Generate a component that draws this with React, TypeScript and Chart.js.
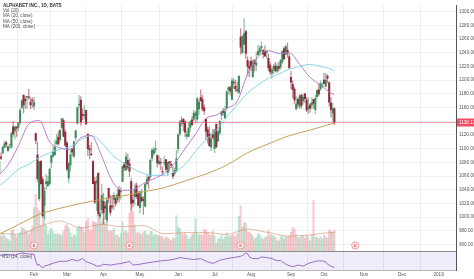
import React, { useEffect, useRef } from 'react';
import { Chart, registerables } from 'chart.js';

Chart.register(...registerables);

const FONT = "'Liberation Sans', Arial, sans-serif";

// Daily bars, Jan 2 2018 (index 0) .. Oct 9 2018 (index 194)
const opens = [
  1048,1064,1088,1094,1102,1109,1097,1106,1102,1132,
  1126,1132,1131,1138,1160,1178,1172,1175,1176,1168,
  1171,1162,1122,1091,1027,1082,1055,1017,1049,1046,
  1049,1080,1089,1091,1107,1117,1113,1131,1141,1124,
  1108,1057,1076,1100,1089,1116,1137,1164,1171,1150,
  1149,1156,1121,1100,1092,1081,1052,1050,1064,1001,
  1011,1023,1016,996,1042,1017,1016,1026,1027,1025,
  1040,1037,1052,1077,1069,1083,1078,1052,1025,1030,
  1046,1034,1014,1029,1026,1016,1049,1058,1059,1086,
  1093,1099,1090,1078,1080,1067,1079,1084,1065,1081,
  1077,1064,1064,1067,1100,1122,1141,1143,1139,1118,
  1118,1131,1142,1143,1148,1143,1158,1175,1172,1160,
  1143,1128,1121,1102,1121,1100,1136,1111,1123,1149,
  1156,1145,1159,1186,1189,1172,1197,1191,1186,1182,
  1263,1240,1252,1271,1229,1220,1228,1205,1229,1222,
  1237,1241,1247,1243,1242,1241,1232,1222,1210,1216,
  1221,1213,1220,1219,1227,1246,1238,1244,1234,1204,
  1194,1187,1158,1172,1162,1178,1170,1180,1171,1158,
  1164,1164,1172,1157,1176,1186,1187,1191,1200,1191,
  1206,1196,1167,1152,1158,
];
const highs = [
  1066,1086,1094,1104,1111,1111,1104,1107,1124,1140,
  1133,1132,1138,1159,1172,1179,1176,1176,1187,1174,
  1174,1175,1123,1110,1081,1082,1059,1044,1062,1060,
  1071,1090,1104,1113,1121,1125,1127,1144,1144,1127,
  1111,1079,1098,1101,1111,1127,1161,1178,1176,1158,
  1163,1156,1122,1105,1109,1083,1058,1060,1065,1025,
  1048,1035,1022,1029,1042,1032,1032,1036,1031,1041,
  1045,1043,1075,1080,1094,1092,1085,1057,1033,1049,
  1050,1038,1038,1040,1030,1050,1061,1060,1085,1100,
  1102,1111,1091,1090,1086,1073,1089,1084,1080,1081,
  1082,1074,1072,1098,1122,1141,1146,1143,1141,1126,
  1138,1141,1147,1156,1154,1175,1171,1186,1178,1164,
  1143,1132,1132,1123,1128,1128,1136,1127,1141,1154,
  1159,1162,1185,1191,1191,1203,1202,1200,1197,1206,
  1275,1265,1290,1273,1234,1227,1234,1230,1230,1240,
  1251,1250,1256,1245,1250,1244,1238,1226,1218,1223,
  1226,1224,1226,1230,1243,1249,1251,1254,1238,1213,
  1199,1190,1176,1174,1179,1180,1179,1181,1175,1174,
  1166,1174,1172,1178,1186,1195,1199,1196,1210,1210,
  1208,1198,1174,1166,1160,
];
const lows = [
  1045,1063,1084,1092,1101,1102,1096,1100,1101,1118,
  1114,1118,1126,1135,1158,1152,1159,1158,1172,1158,
  1160,1157,1107,1052,1024,1048,1000,997,1040,1044,
  1047,1072,1087,1091,1106,1105,1110,1129,1118,1103,
  1067,1050,1067,1089,1087,1112,1136,1160,1134,1142,
  1143,1135,1090,1085,1091,1049,1020,1010,1002,998,
  1005,990,997,993,1021,1003,1012,1011,1016,1022,
  1022,1026,1052,1068,1068,1070,1059,1010,1015,1018,
  1027,1017,1006,1022,1004,1015,1047,1042,1056,1082,
  1090,1094,1073,1076,1069,1061,1075,1068,1061,1067,
  1072,1056,1061,1066,1094,1119,1133,1126,1118,1114,
  1118,1125,1133,1141,1137,1140,1150,1169,1155,1150,
  1113,1108,1104,1097,1114,1094,1101,1111,1120,1142,
  1149,1144,1156,1180,1178,1172,1188,1183,1182,1180,
  1238,1239,1252,1231,1207,1205,1214,1204,1213,1214,
  1236,1236,1242,1232,1235,1232,1214,1208,1203,1209,
  1212,1211,1213,1216,1224,1230,1237,1233,1218,1187,
  1174,1166,1157,1160,1158,1159,1165,1167,1154,1151,
  1153,1158,1159,1151,1173,1177,1185,1189,1195,1190,
  1196,1162,1146,1140,1135,
];
const closes = [
  1065,1082,1086,1102,1107,1106,1103,1106,1122,1122,
  1132,1130,1138,1156,1170,1164,1170,1176,1175,1164,
  1170,1168,1112,1056,1081,1049,1002,1038,1052,1052,
  1070,1090,1095,1102,1111,1107,1127,1144,1118,1105,
  1070,1079,1091,1095,1110,1126,1160,1165,1139,1148,
  1150,1136,1100,1098,1091,1049,1022,1053,1005,1005,
  1032,1006,1013,1025,1028,1007,1015,1032,1020,1033,
  1029,1038,1074,1072,1088,1073,1067,1020,1021,1040,
  1030,1017,1037,1024,1024,1048,1055,1054,1083,1098,
  1098,1100,1079,1082,1079,1066,1080,1070,1080,1079,
  1076,1060,1068,1085,1120,1139,1140,1137,1124,1121,
  1130,1139,1135,1152,1152,1173,1168,1170,1158,1155,
  1125,1118,1104,1114,1116,1127,1103,1124,1140,1154,
  1153,1154,1183,1189,1184,1199,1196,1187,1185,1206,
  1248,1264,1268,1239,1220,1217,1220,1226,1224,1225,
  1242,1246,1249,1238,1235,1242,1218,1212,1215,1220,
  1214,1220,1217,1229,1242,1231,1249,1239,1218,1197,
  1186,1171,1165,1165,1177,1163,1175,1173,1156,1161,
  1159,1167,1166,1173,1185,1180,1195,1193,1195,1200,
  1203,1168,1157,1159,1138.17,
];
// Volume in millions of shares
const volumes = [
  1.56,1.43,1.30,1.51,1.35,1.15,1.02,0.89,1.82,1.81,1.40,1.26,1.47,1.62,2.02,1.98,1.77,1.73,1.45,1.79,2.18,
  3.74,4.86,3.70,3.49,2.19,3.34,3.98,2.19,1.45,1.72,1.97,1.68,1.47,1.49,1.50,1.41,1.34,1.73,2.18,
  2.32,2.08,1.56,1.19,1.46,1.30,2.07,2.17,2.07,2.03,1.67,2.55,2.84,1.86,1.77,2.58,2.47,2.43,3.08,3.30,2.54,
  2.84,2.48,2.93,1.73,1.74,1.74,1.98,1.40,1.40,1.18,1.56,2.54,1.67,1.76,1.59,3.30,4.80,3.42,2.26,1.53,1.66,
  1.52,1.45,1.67,1.76,1.46,1.38,1.70,1.68,1.36,1.49,1.39,1.32,1.28,1.28,1.06,1.23,1.18,1.06,0.93,1.18,1.09,3.06,
  2.08,1.97,1.59,1.40,1.60,1.36,1.03,1.20,1.44,1.53,2.78,1.52,1.42,1.46,1.37,1.92,1.82,1.60,1.43,1.36,1.72,
  1.34,0.73,1.06,1.14,1.37,1.06,1.24,1.59,1.26,1.40,1.33,1.43,1.29,1.51,2.98,3.89,2.10,2.47,2.40,1.69,1.63,
  1.49,1.30,1.06,1.20,1.49,1.44,1.15,1.05,1.20,1.26,1.81,1.40,1.40,1.31,1.19,0.92,0.89,1.25,1.33,1.10,1.26,1.26,1.28,
  1.62,2.02,1.90,1.45,1.16,1.20,1.37,1.31,1.13,1.36,1.22,0.90,1.41,4.36,1.21,1.24,1.10,1.26,1.07,
  1.38,1.27,1.16,1.83,1.70,1.65,1.80,
];

// Moving averages (bar index -> value)
const maIdx = [0,6,12,18,24,30,36,42,48,54,60,66,72,78,84,90,96,102,108,114,120,126,132,138,144,150,156,162,168,174,180,186,192,194];
const ma20 = [1059,1076,1104,1136,1141,1110,1101,1099,1116,1119,1089,1053,1039,1040,1049,1056,1064,1079,1100,1121,1144,1149,1159,1169,1209,1234,1243,1239,1240,1223,1204,1193,1181,1179];
const ma50 = [1044,1056,1070,1077,1087,1094,1099,1103,1113,1119,1109,1091,1080,1071,1064,1061,1061,1066,1077,1096,1113,1127,1146,1164,1181,1193,1203,1209,1216,1220,1223,1220,1216,1213];
const ma200Idx = [0,12,24,36,48,60,72,84,96,108,120,132,144,156,168,180,192,194];
const ma200 = [974,989,1004,1013,1020,1026,1031,1037,1043,1053,1063,1076,1094,1107,1119,1127,1136,1137];
const volMaIdx = [0,12,24,36,48,60,72,84,96,108,120,132,144,156,168,180,192,194];
const volMa = [1.55,1.45,2.1,2.6,2.0,2.3,2.1,2.2,1.5,1.6,1.6,1.45,1.9,1.6,1.3,1.4,1.6,1.6];

// RSI (14)
const rsiIdx = [0,2,6,10,14,18,21,22,23,24,25,26,27,29,32,36,40,43,46,49,51,55,57,59,61,65,68,71,75,76,78,82,86,90,94,98,101,105,109,113,117,121,124,128,132,136,140,141,143,144,145,147,150,152,155,158,161,163,164,167,170,173,176,179,182,184,187,189,190,192,194];
const rsiVals = [57,57,58,57,60.5,59,58.5,48,41,43,39,37,40,41.5,44.5,47.5,47.5,50.5,48,52,47,43,40,40,43,41.5,43,44,46.6,47.7,41.5,43,45,46.6,48.2,49.2,50.3,53.4,51.8,50.3,51.8,46.6,44.2,49.2,51.8,53.4,55.4,56.5,60.5,59.5,54.3,51.8,51.8,54.3,53.4,51.8,48.2,49.2,46.6,41.5,38.9,41.5,40,44.2,46.6,48.2,48.2,46.6,43,40,38];
const rsiBand = [70, 30];

const earningsIdx = [21, 76, 140, 206];

const monthTickIdx = [21,40,61,82,104,125,146,169,188,211,233,254];
const monthTickLabels = ['Feb','Mar','Apr','May','Jun','Jul','Aug','Sep','Oct','Nov','Dec','2019'];
const priceTicks = [960,980,1000,1020,1040,1060,1080,1100,1120,1140,1160,1180,1200,1220,1240,1260,1280,1300];
const rsiTicks = [40, 60];

const legendLines = ['ALPHABET INC., 1D, BATS', 'Vol (20)', 'MA (20, close)', 'MA (50, close)', 'MA (200, close)'];
const rsiTitle = 'RSI (14, close)';

export default function App() {
  const ref = useRef<HTMLCanvasElement>(null);

  useEffect(() => {
    const canvas = ref.current;
    if (!canvas) return;
    const n = closes.length;
    const idx = closes.map((_, i) => i);
    const up = idx.map((i) => closes[i] >= opens[i]);
    const lastClose = closes[n - 1];

    const bodyData = idx.map((i) => ({ x: i, y: [opens[i], closes[i]] }));
    const wickData = idx.map((i) => ({ x: i, y: [lows[i], highs[i]] }));
    const volData = idx.map((i) => ({ x: i, y: volumes[i] }));
    const pts = (xs: number[], ys: number[]) => xs.map((x, i) => ({ x, y: ys[i] }));

    const UP = '#3f8a5c';
    const DOWN = '#8e2a3a';

    const extras = {
      id: 'extras',
      beforeDatasetsDraw(chart: any) {
        const { ctx, chartArea } = chart;
        const yV = chart.scales.yVol;
        const yR = chart.scales.yRsi;
        const paneTop = yV.getPixelForValue(0);
        const t = Math.max(paneTop, yR.getPixelForValue(rsiBand[0]));
        const b = Math.min(chartArea.bottom, yR.getPixelForValue(rsiBand[1]));
        ctx.save();
        ctx.fillStyle = 'rgba(150,110,215,0.13)';
        ctx.fillRect(chartArea.left, t, chartArea.right - chartArea.left, b - t);
        ctx.restore();
      },
      afterDatasetsDraw(chart: any) {
        const { ctx, chartArea } = chart;
        const yV = chart.scales.yVol;
        const yP = chart.scales.y;
        const xS = chart.scales.x;
        const paneTop = yV.getPixelForValue(0);
        ctx.save();
        // pane separator
        ctx.strokeStyle = '#8c8c8c';
        ctx.lineWidth = 1;
        ctx.beginPath();
        ctx.moveTo(chartArea.left, Math.round(paneTop) + 0.5);
        ctx.lineTo(chartArea.right, Math.round(paneTop) + 0.5);
        ctx.stroke();
        // last price line
        const py = Math.round(yP.getPixelForValue(lastClose)) + 0.5;
        ctx.strokeStyle = 'rgba(236,88,104,0.6)';
        ctx.beginPath();
        ctx.moveTo(chartArea.left, py);
        ctx.lineTo(chartArea.right, py);
        ctx.stroke();
        // earnings markers
        earningsIdx.forEach((e) => {
          const ex = xS.getPixelForValue(e);
          const ey = paneTop - 6;
          ctx.beginPath();
          ctx.arc(ex, ey, 3.6, 0, Math.PI * 2);
          ctx.fillStyle = '#fdeeee';
          ctx.fill();
          ctx.strokeStyle = '#ef8a8f';
          ctx.lineWidth = 0.8;
          ctx.stroke();
          ctx.fillStyle = '#e0505a';
          ctx.font = `bold 4px ${FONT}`;
          ctx.textAlign = 'center';
          ctx.textBaseline = 'middle';
          ctx.fillText('E', ex, ey + 0.2);
        });
        // legend texts
        ctx.textAlign = 'left';
        ctx.textBaseline = 'middle';
        legendLines.forEach((s, i) => {
          ctx.font = i === 0 ? `bold 4.6px ${FONT}` : `4.6px ${FONT}`;
          ctx.fillStyle = i === 0 ? '#333' : '#555';
          ctx.fillText(s, chartArea.left + 3, 5.3 + i * 5.35);
        });
        ctx.font = `4.6px ${FONT}`;
        ctx.fillStyle = '#555';
        ctx.fillText(rsiTitle, chartArea.left + 2, paneTop + 5.5);
        ctx.restore();
      },
      afterDraw(chart: any) {
        const { ctx, chartArea, width } = chart;
        const yP = chart.scales.y;
        const py = yP.getPixelForValue(lastClose);
        ctx.save();
        ctx.fillStyle = '#ee4d63';
        ctx.fillRect(chartArea.right + 1, py - 4, width - chartArea.right - 1, 8);
        ctx.fillStyle = '#fff';
        ctx.font = `4.6px ${FONT}`;
        ctx.textAlign = 'left';
        ctx.textBaseline = 'middle';
        ctx.fillText(lastClose.toFixed(2), chartArea.right + 3, py + 0.3);
        ctx.restore();
      },
    };

    const chart = new Chart(canvas, {
      type: 'bar',
      data: {
        datasets: [
          {
            type: 'line',
            label: 'MA 20',
            data: pts(maIdx, ma20),
            yAxisID: 'y',
            borderColor: '#b77fcc',
            borderWidth: 1,
            pointRadius: 0,
            cubicInterpolationMode: 'monotone',
            order: 1,
          },
          {
            type: 'line',
            label: 'MA 50',
            data: pts(maIdx, ma50),
            yAxisID: 'y',
            borderColor: '#86d6e8',
            borderWidth: 1,
            pointRadius: 0,
            cubicInterpolationMode: 'monotone',
            order: 1,
          },
          {
            type: 'line',
            label: 'MA 200',
            data: pts(ma200Idx, ma200),
            yAxisID: 'y',
            borderColor: '#c9a05c',
            borderWidth: 1,
            pointRadius: 0,
            cubicInterpolationMode: 'monotone',
            order: 1,
          },
          {
            type: 'line',
            label: 'RSI',
            data: pts(rsiIdx, rsiVals),
            yAxisID: 'yRsi',
            borderColor: '#8a62c0',
            borderWidth: 0.9,
            pointRadius: 0,
            tension: 0,
            order: 1,
          },
          {
            type: 'bar',
            label: 'Body',
            data: bodyData as any,
            yAxisID: 'y',
            backgroundColor: up.map((u) => (u ? UP : DOWN)),
            barThickness: 1.4,
            grouped: false,
            order: 2,
          },
          {
            type: 'bar',
            label: 'Wick',
            data: wickData as any,
            yAxisID: 'y',
            backgroundColor: up.map((u) => (u ? 'rgba(63,138,92,0.55)' : 'rgba(142,42,58,0.55)')),
            barThickness: 0.6,
            grouped: false,
            order: 3,
          },
          {
            type: 'line',
            label: 'Vol MA',
            data: pts(volMaIdx, volMa),
            yAxisID: 'yVol',
            borderColor: 'rgba(205,150,120,0.8)',
            borderWidth: 0.8,
            pointRadius: 0,
            cubicInterpolationMode: 'monotone',
            order: 8,
          },
          {
            type: 'bar',
            label: 'Volume',
            data: volData as any,
            yAxisID: 'yVol',
            backgroundColor: up.map((u) => (u ? 'rgba(83,185,135,0.35)' : 'rgba(240,95,110,0.32)')),
            barThickness: 1.5,
            grouped: false,
            order: 10,
          },
        ],
      },
      options: {
        animation: false,
        responsive: false,
        devicePixelRatio: 1,
        events: [],
        layout: { padding: 0, autoPadding: false },
        plugins: { legend: { display: false }, tooltip: { enabled: false } },
        scales: {
          x: {
            type: 'linear',
            position: 'bottom',
            min: 1.4224,
            max: 264.02,
            offset: false,
            bounds: 'data',
            afterBuildTicks: (s: any) => {
              s.ticks = monthTickIdx.map((v) => ({ value: v }));
            },
            afterFit: (s: any) => {
              s.height = 9;
            },
            ticks: {
              autoSkip: false,
              maxRotation: 0,
              minRotation: 0,
              padding: 2,
              color: '#555',
              font: { size: 4.6, family: FONT },
              callback: (_v: any, i: number) => monthTickLabels[i] ?? '',
            },
            grid: { color: '#eceef2', lineWidth: 1, drawTicks: false },
            border: { display: true, color: '#b8b8b8' },
          },
          y: {
            type: 'linear',
            position: 'right',
            weight: 1,
            min: 922.857,
            max: 1308.571,
            bounds: 'data',
            afterBuildTicks: (s: any) => {
              s.ticks = priceTicks.map((v) => ({ value: v }));
            },
            afterFit: (s: any) => {
              s.width = 18;
            },
            ticks: {
              autoSkip: false,
              padding: 3,
              color: '#555',
              font: { size: 4.6, family: FONT },
              callback: (v: any) => (Math.abs(Number(v) - lastClose) < 6 ? '' : Number(v).toFixed(2)),
            },
            grid: { color: '#eff0f3', lineWidth: 1, drawTicks: false },
            border: { display: true, color: '#555' },
          },
          yRsi: {
            type: 'linear',
            position: 'right',
            weight: 0,
            min: 33.846,
            max: 449.23,
            bounds: 'data',
            afterBuildTicks: (s: any) => {
              s.ticks = rsiTicks.map((v) => ({ value: v }));
            },
            afterFit: (s: any) => {
              s.width = 0;
            },
            ticks: {
              autoSkip: false,
              padding: 3,
              color: '#555',
              font: { size: 4.6, family: FONT },
              callback: (v: any) => Number(v).toFixed(4),
            },
            grid: { display: false, drawTicks: false },
            border: { display: false },
          },
          yVol: {
            type: 'linear',
            display: false,
            min: -1.5833,
            max: 20.9167,
            bounds: 'data',
          },
        },
      } as any,
      plugins: [extras],
    });

    return () => chart.destroy();
  }, []);

  return (
    <div style={{ position: 'fixed', left: 0, top: 0, width: 474, height: 279, background: '#fff' }}>
      <canvas ref={ref} width={474} height={279} style={{ display: 'block', width: 474, height: 279 }} />
    </div>
  );
}
